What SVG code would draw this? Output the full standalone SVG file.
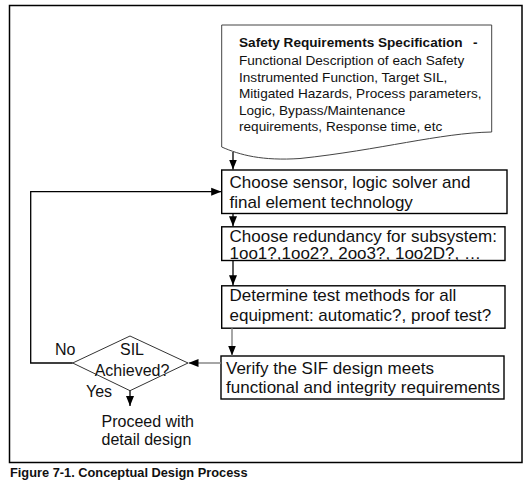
<svg xmlns="http://www.w3.org/2000/svg" width="530" height="482" viewBox="0 0 530 482">
<defs>
<marker id="ah" markerUnits="userSpaceOnUse" markerWidth="10" markerHeight="10" viewBox="0 0 10 10" refX="10" refY="5" orient="auto">
<path d="M0,1 L10,5 L0,9 Z" fill="#000"/>
</marker>
<style>
text{font-family:"Liberation Sans",Arial,sans-serif;fill:#111}
.box{fill:#fff;stroke:#000;stroke-width:1.4}
.doc{fill:#fff;stroke:#444;stroke-width:1}
.t17{font-size:17px}
.t16{font-size:16px}
.t13{font-size:13.6px}
.c{stroke:#000;stroke-width:1.3;fill:none}
.g{stroke:#888;stroke-width:1.5;fill:none}
</style>
</defs>
<rect x="0" y="0" width="530" height="482" fill="#fff"/>
<rect x="9.5" y="5.5" width="512.5" height="457" fill="none" stroke="#000" stroke-width="1.5"/>

<g id="srs">
<path class="doc" d="M221.7,25 H491.7 V132 C440,133 380,150 300,158.5 C262,161 240,155 221.7,147 Z"/>
<text class="t13" x="239" y="46.7" font-weight="bold" font-size="12.9px">Safety Requirements Specification<tspan x="473">-</tspan></text>
<text class="t13" x="239" y="65">Functional Description of each Safety</text>
<text class="t13" x="239" y="81.6">Instrumented Function, Target SIL,</text>
<text class="t13" x="239" y="98.2">Mitigated Hazards, Process parameters,</text>
<text class="t13" x="239" y="114.8">Logic, Bypass/Maintenance</text>
<text class="t13" x="239" y="131.4">requirements, Response time, etc</text>
</g>

<g id="choose-tech">
<rect class="box" x="221.7" y="170" width="285.3" height="43.5"/>
<text class="t17" x="229.5" y="188">Choose sensor, logic solver and</text>
<text class="t17" x="229.5" y="208">final element technology</text>
</g>

<g id="choose-redundancy">
<rect class="box" x="221.7" y="226.8" width="283.3" height="33.7"/>
<text class="t17" x="229.5" y="241.5">Choose redundancy for subsystem:</text>
<text class="t17" x="229.5" y="259">1oo1?,1oo2?, 2oo3?, 1oo2D?, …</text>
</g>

<g id="test-methods">
<rect class="box" x="221.7" y="285.8" width="283.3" height="42.4"/>
<text class="t17" x="229.5" y="301">Determine test methods for all</text>
<text class="t17" x="229.5" y="320.5">equipment: automatic?, proof test?</text>
</g>

<g id="verify">
<rect class="box" x="221" y="356" width="283" height="43"/>
<text class="t17" x="226" y="374">Verify the SIF design meets</text>
<text class="t17" x="226" y="392.6">functional and integrity requirements</text>
</g>

<g id="sil-decision">
<path d="M72.7,363 L130,336 L188,363 L130,390.7 Z" fill="#fff" stroke="#333" stroke-width="1"/>
<text class="t16" x="132" y="355" text-anchor="middle">SIL</text>
<text class="t16" x="132" y="376" text-anchor="middle">Achieved?</text>
</g>

<g id="proceed">
<text class="t16" x="101.5" y="426.7">Proceed with</text>
<text class="t16" x="101.5" y="445">detail design</text>
</g>

<g id="connectors">
<line class="c" x1="233" y1="152" x2="233" y2="169.5" marker-end="url(#ah)"/>
<line class="c" x1="233" y1="213.5" x2="233" y2="226.3" marker-end="url(#ah)"/>
<line class="c" x1="233" y1="260.5" x2="233" y2="285.3" marker-end="url(#ah)"/>
<line class="g" x1="232" y1="328.2" x2="232" y2="355.5" marker-end="url(#ah)"/>
<line class="g" x1="221" y1="363" x2="188.5" y2="363" marker-end="url(#ah)"/>
<polyline class="c" points="72.7,363 30.7,363 30.7,191.7 221.2,191.7" marker-end="url(#ah)"/>
<line class="c" x1="130" y1="390.7" x2="130" y2="406" marker-end="url(#ah)"/>
<text class="t16" x="55" y="355">No</text>
<text class="t16" x="86" y="397">Yes</text>
</g>

<text x="10" y="477" font-weight="bold" font-size="12.8px">Figure 7-1. Conceptual Design Process</text>
</svg>
